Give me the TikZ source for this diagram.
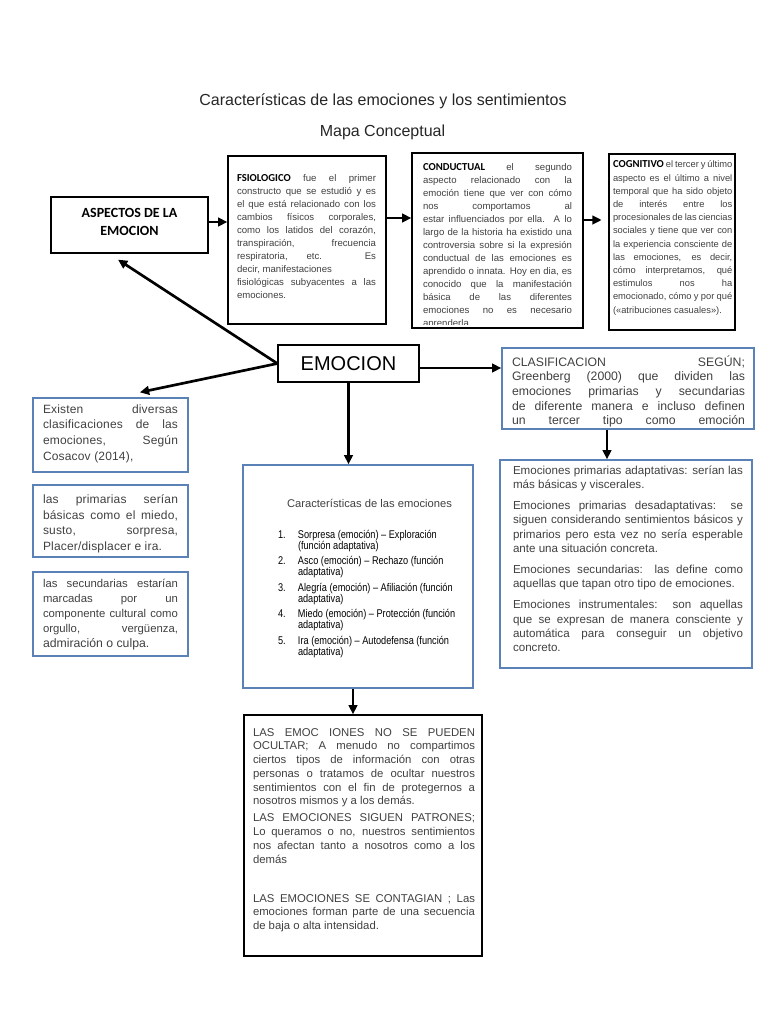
\documentclass[tikz,border=0pt]{standalone}
\usepackage{fontspec}
\setmainfont{Liberation Sans}
\newfontfamily\calib{Carlito}
\newfontfamily\narrow[FakeStretch=0.82]{Liberation Sans}
\usetikzlibrary{arrows.meta}
\definecolor{txtgray}{RGB}{64,64,64}
\definecolor{boxblue}{RGB}{90,130,182}
\tikzstyle{blackbox} = [draw=black, line width=1pt, inner sep=0pt, text=txtgray]
\tikzstyle{bluebox} = [draw=boxblue, line width=1pt, inner sep=0pt, text=txtgray]
\tikzstyle{arr} = [-{Triangle[length=7pt, width=6.5pt]}, line width=2pt]
\newcommand{\hd}[1]{{\calib\bfseries\fontsize{8}{9.75}\selectfont\color{black}#1}}
% width, height, left margin, right margin, top margin, text
\newcommand{\boxtext}[6]{\parbox[c][#2][t]{#1}{\leftskip=#3\relax\rightskip=#4\relax\vspace*{#5}\noindent\rule{0pt}{1em}#6}}

\begin{document}
\begin{tikzpicture}[x=0.75pt, y=-0.75pt]
      \useasboundingbox (0,0) rectangle (768,1024);

      \node[text=black!85, font=\fontsize{12}{14}\selectfont] (title) at (383,101) {Características de las emociones y los sentimientos};
      \node[text=black!85, font=\fontsize{12}{14}\selectfont] (subtitle) at (382.5,132) {Mapa Conceptual};

      % aspectos
      \node[blackbox, text=black, minimum width=117.75pt, minimum height=42pt, font=\calib\bfseries\fontsize{10.5}{13.5}\selectfont] (aspectos) at (129.5,225)
        {\boxtext{117.75pt}{42pt}{0pt}{0pt}{4.5pt}{\centering ASPECTOS DE LA\\ EMOCION}};
      \node[blackbox, minimum width=118.5pt, minimum height=126pt, font=\fontsize{7.2}{9.75}\selectfont] (fisio) at (307,240)
        {\boxtext{118.5pt}{126pt}{6.75pt}{7.5pt}{11.9pt}{\hd{FSIOLOGICO} fue el primer\linebreak constructo que se estudió y es\linebreak el que está relacionado con los\linebreak cambios físicos corporales,\linebreak como los latidos del corazón,\linebreak transpiración, frecuencia\linebreak respiratoria, etc. Es\linebreak decir, manifestaciones\newline fisiológicas subyacentes a las\linebreak emociones.}};
      \node[blackbox, minimum width=128.25pt, minimum height=131.25pt] (conduct) at (497.5,240.5) {};
      \begin{scope}
        \clip (conduct.north west) rectangle ([yshift=3pt]conduct.south east);
        \node[inner sep=0pt, text=txtgray, font=\fontsize{7.2}{9.75}\selectfont] (conducttxt) at (conduct.center)
          {\boxtext{128.25pt}{131.25pt}{8.25pt}{8.25pt}{5.9pt}{\hd{CONDUCTUAL} el segundo\linebreak aspecto relacionado con la\linebreak emoción tiene que ver con cómo\linebreak nos comportamos al\linebreak estar influenciados por ella. A lo\linebreak largo de la historia ha existido una\linebreak controversia sobre si la expresión\linebreak conductual de las emociones es\linebreak aprendido o innata. Hoy en dia, es\linebreak conocido que la manifestación\linebreak básica de las diferentes\linebreak emociones no es necesario\linebreak aprenderla}};
      \end{scope}
      \node[blackbox, minimum width=94.5pt, minimum height=132pt, font=\fontsize{7}{9.9}\selectfont] (cognit) at (672,242)
        {\boxtext{94.5pt}{132pt}{3pt}{2pt}{3.4pt}{\hd{COGNITIVO} el tercer y último\linebreak aspecto es el último a nivel\linebreak temporal que ha sido objeto\linebreak de interés entre los\linebreak procesionales de las ciencias\linebreak sociales y tiene que ver con\linebreak la experiencia consciente de\linebreak las emociones, es decir,\linebreak cómo interpretamos, qué\linebreak estimulos nos ha\linebreak emocionado, cómo y por qué\linebreak («atribuciones casuales»).}};

      % emocion
      \node[blackbox, text=black, minimum width=105.75pt, minimum height=27.75pt, font=\fontsize{15}{18}\selectfont] (emocion) at (348.5,363.5) {EMOCION};
      \node[bluebox, minimum width=189pt, minimum height=60.75pt, font=\fontsize{9.2}{10.9}\selectfont] (clasif) at (628,388.5)
        {\boxtext{189pt}{60.75pt}{7.5pt}{6.75pt}{4.6pt}{CLASIFICACION SEGÚN;\linebreak Greenberg (2000) que dividen las\linebreak emociones primarias y secundarias\linebreak de diferente manera e incluso definen\linebreak un tercer tipo como emoción\parfillskip=0pt\par}};
      \node[bluebox, minimum width=189pt, minimum height=156pt, font=\fontsize{8.7}{10.65}\selectfont] (tipos) at (626,564)
        {\boxtext{189pt}{156pt}{9.75pt}{6.75pt}{1.9pt}{\parskip=5.3pt Emociones primarias adaptativas: serían las\linebreak más básicas y viscerales.\par
        Emociones primarias desadaptativas: se\linebreak siguen considerando sentimientos básicos y\linebreak primarios pero esta vez no sería esperable\linebreak ante una situación concreta.\par
        Emociones secundarias: las define como\linebreak aquellas que tapan otro tipo de emociones.\par
        Emociones instrumentales: son aquellas\linebreak que se expresan de manera consciente y\linebreak automática para conseguir un objetivo\linebreak concreto.}};

      % clasificaciones
      \node[bluebox, minimum width=116.25pt, minimum height=55.5pt, font=\fontsize{9}{11.7}\selectfont\addfontfeature{LetterSpace=1.5}] (existen) at (110.5,435)
        {\boxtext{116.25pt}{55.5pt}{7.5pt}{7.5pt}{2.5pt}{Existen diversas\linebreak clasificaciones de las\linebreak emociones, Según\linebreak Cosacov (2014),}};
      \node[bluebox, minimum width=116.25pt, minimum height=54pt, font=\fontsize{9}{11.8}\selectfont\addfontfeature{LetterSpace=1.5}] (primarias) at (110.5,521)
        {\boxtext{116.25pt}{54pt}{7.5pt}{7.5pt}{4.7pt}{las primarias serían\linebreak básicas como el miedo,\linebreak susto, sorpresa,\linebreak Placer/displacer e ira.}};
      \node[bluebox, minimum width=116.25pt, minimum height=63pt, font=\fontsize{8.5}{11.25}\selectfont] (secundarias) at (110.5,614)
        {\boxtext{116.25pt}{63pt}{7.5pt}{7.5pt}{2.8pt}{las secundarias estarían\linebreak marcadas por un\linebreak componente cultural como\linebreak orgullo, vergüenza,\linebreak {\fontsize{9.2}{11.25}\selectfont admiración o culpa.}}};

      \node[bluebox, minimum width=172.5pt, minimum height=167.25pt, font=\fontsize{8.4}{10}\selectfont] (caract) at (358,576.5)
        {\boxtext{172.5pt}{167.25pt}{26.25pt}{0pt plus 1fil}{23.1pt}{\hspace*{6.75pt}Características de las emociones\par
        \vspace{11.6pt}\narrow\fontsize{8.4}{8.25}\selectfont\color{black}\parskip=3.4pt
        \hangindent=15pt\hangafter=1\noindent\makebox[15pt][l]{1.}Sorpresa (emoción) – Exploración\newline (función adaptativa)\par
        \hangindent=15pt\hangafter=1\noindent\makebox[15pt][l]{2.}Asco (emoción) – Rechazo (función\newline adaptativa)\par
        \hangindent=15pt\hangafter=1\noindent\makebox[15pt][l]{3.}Alegría (emoción) – Afiliación (función\newline adaptativa)\par
        \hangindent=15pt\hangafter=1\noindent\makebox[15pt][l]{4.}Miedo (emoción) – Protección (función\newline adaptativa)\par
        \hangindent=15pt\hangafter=1\noindent\makebox[15pt][l]{5.}Ira (emoción) – Autodefensa (función\newline adaptativa)\par}};
      \node[blackbox, minimum width=178.5pt, minimum height=180.75pt, font=\fontsize{8.5}{10.3}\selectfont] (rasgos) at (363,835.5)
        {\boxtext{178.5pt}{180.75pt}{6.75pt}{5.25pt}{7.3pt}{\parskip=2.5pt LAS EMOC IONES NO SE PUEDEN\linebreak OCULTAR; A menudo no compartimos\linebreak ciertos tipos de información con otras\linebreak personas o tratamos de ocultar nuestros\linebreak sentimientos con el fin de protegernos a\linebreak nosotros mismos y a los demás.\par
        LAS EMOCIONES SIGUEN PATRONES;\linebreak Lo queramos o no, nuestros sentimientos\linebreak nos afectan tanto a nosotros como a los\linebreak demás\par
        \vspace{16.5pt}LAS EMOCIONES SE CONTAGIAN ; Las\linebreak emociones forman parte de una secuencia\linebreak de baja o alta intensidad.}};

      \draw[arr] (aspectos.east |- 0,222) -- (fisio.west |- 0,222);
      \draw[arr] (fisio.east |- 0,218) -- (conduct.west |- 0,218);
      \draw[arr, shorten >=5pt] (conduct.east |- 0,220) -- (cognit.west |- 0,220);
      \draw[arr] (emocion.west) -- ([xshift=-8.6pt, yshift=-4.5pt]aspectos.south);
      \draw[arr] (emocion.west) -- ([xshift=22pt, yshift=3.75pt]existen.north);
      \draw[arr] (emocion.east |- 0,368) -- (clasif.west |- 0,368);
      \draw[arr] (emocion.south) -- (emocion.south |- caract.north);
      \draw[arr] (clasif.south -| 607,0) -- (tipos.north -| 607,0);
      \draw[arr] (caract.south -| 353,0) -- (rasgos.north -| 353,0);
    \end{tikzpicture}
\end{document}
